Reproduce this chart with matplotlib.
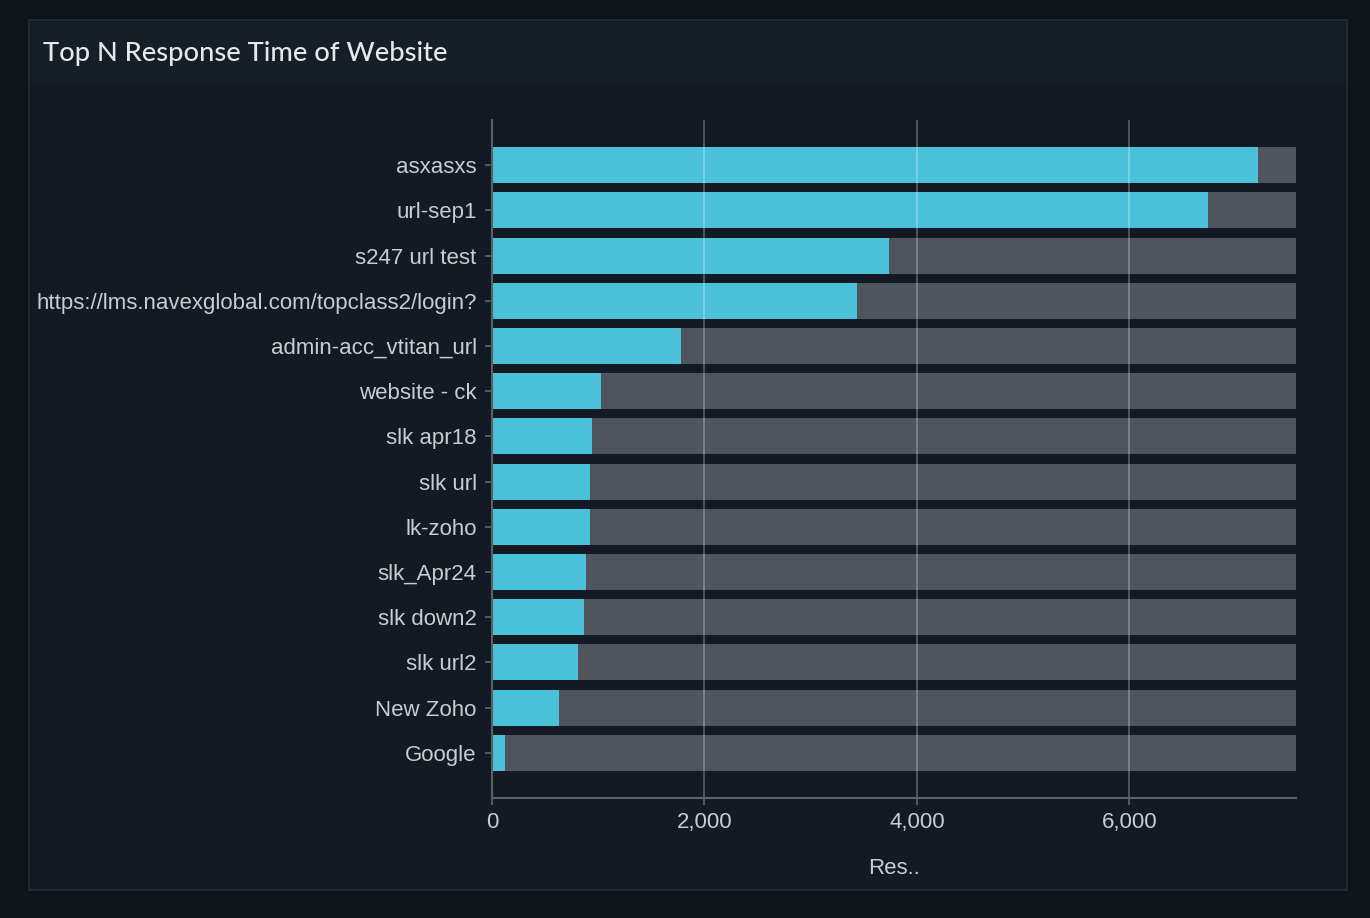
import matplotlib
matplotlib.use("Agg")
import matplotlib.pyplot as plt
from matplotlib.patches import Rectangle

# data
sites = ["asxasxs", "url-sep1", "s247 url test",
         "https://lms.navexglobal.com/topclass2/login?",
         "admin-acc_vtitan_url", "website - ck", "slk apr18", "slk url",
         "lk-zoho", "slk_Apr24", "slk down2", "slk url2", "New Zoho", "Google"]
response_ms = [7215, 6744, 3739, 3438, 1780, 1027, 942, 923, 923, 885, 867, 810, 631, 122]
track_max = 7570
xticks = [0, 2000, 4000, 6000]

outer_bg = "#0d141a"
panel_bg = "#131a23"
head_bg = "#161f28"
cyan = "#4ac1d9"
track = "#50555d"
txt = "#c9cdd1"
axis_col = "#5a6068"

fig = plt.figure(figsize=(13.7, 9.18), dpi=100, facecolor=outer_bg)
W, H = 1370, 918

def px(x0, y0, x1, y1, **kw):
    fig.patches.append(Rectangle((x0 / W, 1 - y1 / H), (x1 - x0) / W, (y1 - y0) / H,
                                 transform=fig.transFigure, zorder=-5, **kw))

px(29, 20, 1347, 890, facecolor=panel_bg, edgecolor="#1f2a33", linewidth=1.5)
px(31, 22, 1345, 83, facecolor=head_bg, edgecolor="none")
fig.text(43 / W, 1 - 54 / H, "Top N Response Time of Website", color="#e6e8ea",
         fontsize=19.6, family="Lato", fontweight="medium", va="center", ha="left")

ax = fig.add_axes([492 / W, 1 - 798 / H, (1296 - 492) / W, (798 - 120) / H])
ax.set_facecolor(panel_bg)

ypos = list(range(len(sites)))
ax.barh(ypos, [track_max] * len(sites), height=0.8, color=track, zorder=1)
ax.barh(ypos, response_ms, height=0.8, color=cyan, zorder=2)

ax.set_xlim(0, track_max)
ax.set_ylim(len(sites), -1)
ax.set_yticks(ypos)
ax.set_yticklabels(sites)
ax.set_xticks(xticks)
ax.set_xticklabels([f"{v:,}" for v in xticks])

ax.grid(axis="x", color="#ffffff", alpha=0.28, linewidth=1.3, zorder=3)
ax.set_axisbelow(False)

for s in ["top", "right"]:
    ax.spines[s].set_visible(False)
for s in ["left", "bottom"]:
    ax.spines[s].set_color(axis_col)
    ax.spines[s].set_linewidth(1.5)
    ax.spines[s].set_zorder(4)

ax.tick_params(axis="both", colors=axis_col, length=5, width=1.3, labelcolor=txt,
               labelsize=16)
ax.tick_params(axis="y", pad=6)
ax.tick_params(axis="x", pad=5)
for lab in ax.get_xticklabels() + ax.get_yticklabels():
    lab.set_family("Liberation Sans")

ax.set_xlabel("Res..", color=txt, fontsize=16, family="Liberation Sans", labelpad=18)

fig.savefig("out.png", dpi=100, facecolor=outer_bg)
